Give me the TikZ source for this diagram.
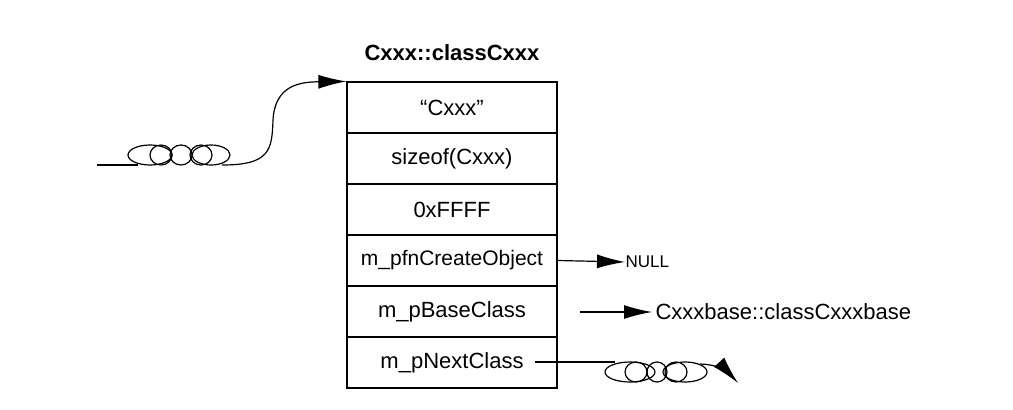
\documentclass[tikz,border=0pt]{standalone}
\usepackage{fontspec}
\setmainfont{Liberation Sans}
\usetikzlibrary{arrows.meta}
\begin{document}
\begin{tikzpicture}[x=1pt,y=-1pt,line width=1.2pt,
  cell/.style={draw,minimum width=210pt,minimum height=51pt,inner sep=0pt,font=\fontsize{22}{24}\selectfont},
  lbl/.style={anchor=west,inner sep=0pt,font=\fontsize{22}{24}\selectfont},
  arr/.style={-{Latex[length=28pt,width=14pt]}}]
\useasboundingbox (0,0) rectangle (1013,410);
\node[font=\bfseries\fontsize{22}{24}\selectfont] (title) at (452,53) {Cxxx::classCxxx};
\node[cell] (c1) at (452,107.5) {“Cxxx”};
\node[cell] (c2) at (452,158.5) {sizeof(Cxxx)};
\node[cell] (c3) at (452,209.5) {0xFFFF};
\node[cell,font=\fontsize{21}{24}\selectfont] (c4) at (452,260.5) {m\_pfnCreateObject};
\node[cell] (c5) at (452,311.5) {m\_pBaseClass};
\node[cell] (c6) at (452,362.5) {m\_pNextClass};
\node[lbl,font=\fontsize{17}{19}\selectfont] (null) at (625,262) {NULL};
\node[lbl] (base) at (655,312) {Cxxxbase::classCxxxbase};
\coordinate (a1) at (580,312);
\coordinate (a2) at (535,362);
\coordinate (s) at (97,165);
\coordinate (t) at (738,383);
% left coil
\draw (s) -- (138,165);
\foreach \cx/\rx in {150/22,161/11,181/11,201/11,211/19}
  \draw (\cx,155) ellipse ({\rx} and 10);
\draw[arr] (222,165) .. controls (270,165) and (272,150) .. (273,120)
  .. controls (275,85) and (300,82) .. (c1.north west);
% arrows
\draw[arr] (c4.east) -- (null.west);
\draw[arr] (a1) -- ([xshift=-3pt]base.west);
% bottom coil
\draw (a2) -- (615,362);
\foreach \cx/\rx in {630/25,636/11,657/10,676/11,685/22}
  \draw (\cx,372) ellipse ({\rx} and 10);
\draw[arr] (700,364) .. controls (715,364) and (728,372) .. (t);
\end{tikzpicture}
\end{document}
